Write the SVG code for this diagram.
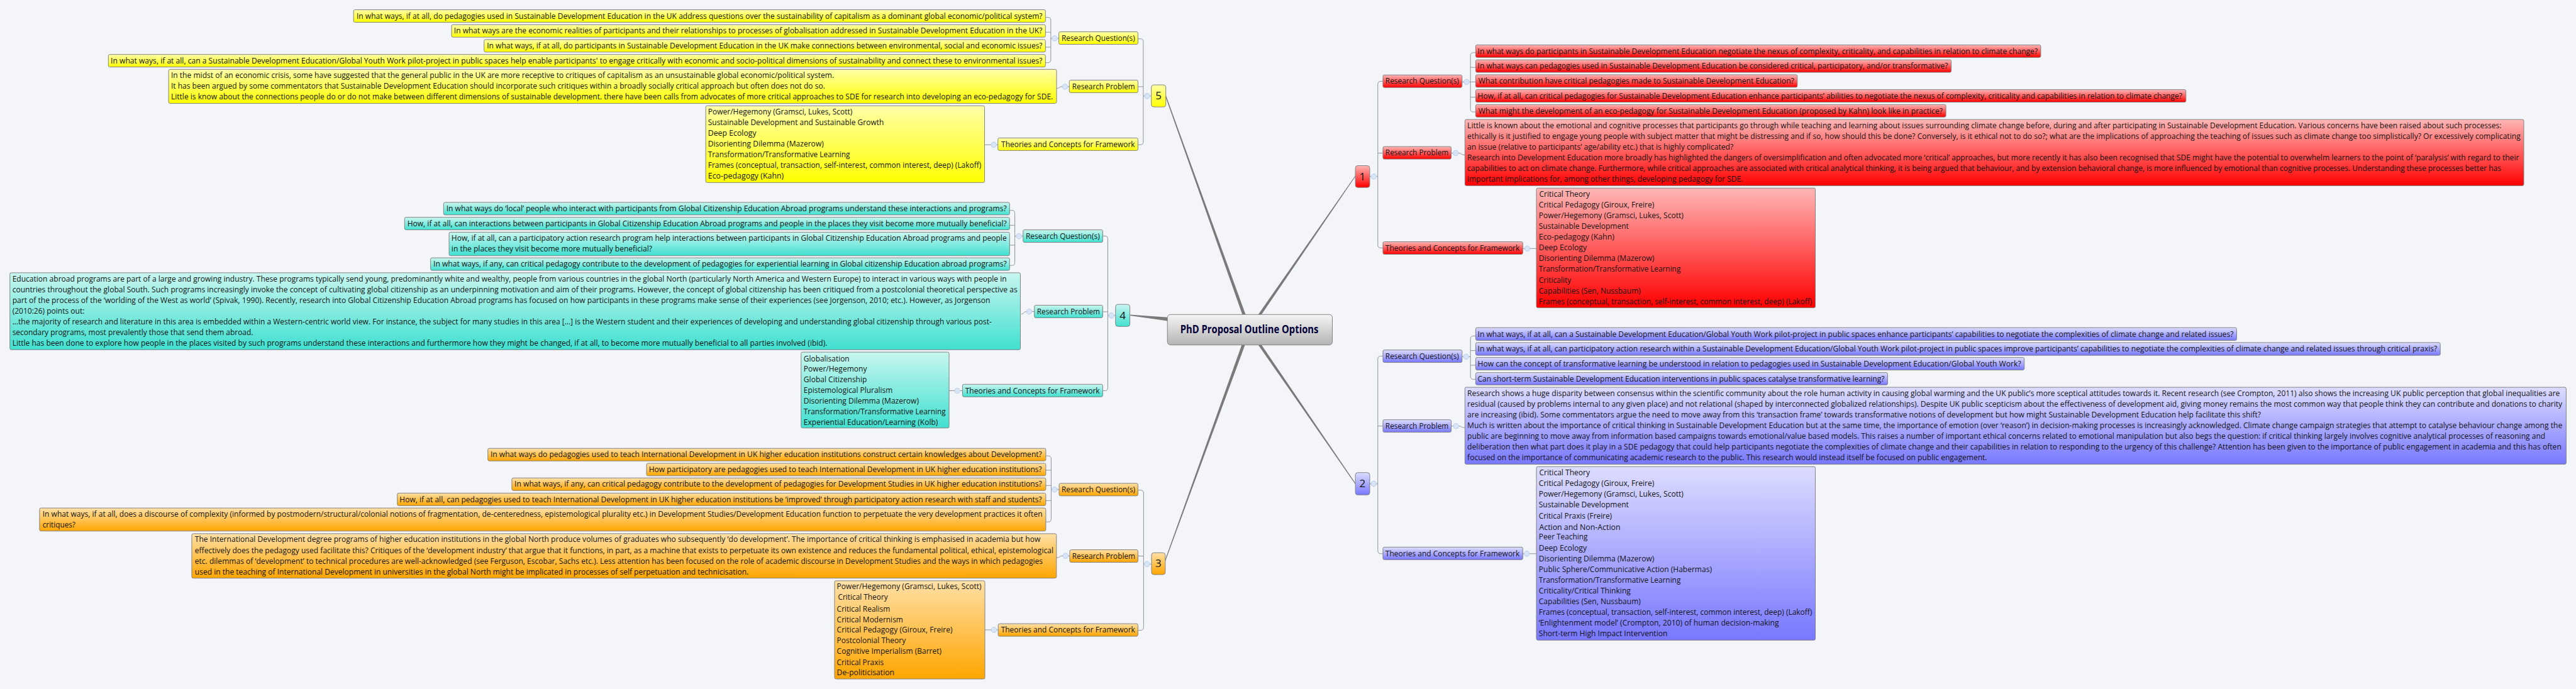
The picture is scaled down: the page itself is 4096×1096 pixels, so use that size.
<svg xmlns="http://www.w3.org/2000/svg" width="4096" height="1096" viewBox="0 0 4096 1096">
<style>
text{font-family:"Open Sans","Noto Sans","Liberation Sans",sans-serif;font-size:13px;fill:#141414}
.box{stroke:#7d7d7d;stroke-width:1}
.y{fill:url(#gy)}.t{fill:url(#gt)}.o{fill:url(#go)}.r{fill:url(#gr)}.b{fill:url(#gb)}.root{fill:url(#gg)}
.n{font-size:18px;text-anchor:middle}
.rt{font-size:19px;font-weight:700;fill:#000038}
.l{fill:none;stroke:#8a8f96;stroke-width:1}
.w{fill:#7a7a7a;stroke:none}
.c{fill:#d8e5f6;stroke:#b5cbe8;stroke-width:1}
</style>
<defs>
<linearGradient id="gy" x1="0" y1="0" x2="0" y2="1"><stop offset="0" stop-color="#ffffa8"/><stop offset="1" stop-color="#ffff00"/></linearGradient>
<linearGradient id="gt" x1="0" y1="0" x2="0" y2="1"><stop offset="0" stop-color="#c8f6ef"/><stop offset="1" stop-color="#40e0d0"/></linearGradient>
<linearGradient id="go" x1="0" y1="0" x2="0" y2="1"><stop offset="0" stop-color="#ffe0a6"/><stop offset="1" stop-color="#ffa500"/></linearGradient>
<linearGradient id="gr" x1="0" y1="0" x2="0" y2="1"><stop offset="0" stop-color="#ffb6b6"/><stop offset="1" stop-color="#ff0000"/></linearGradient>
<linearGradient id="gb" x1="0" y1="0" x2="0" y2="1"><stop offset="0" stop-color="#dcdcff"/><stop offset="1" stop-color="#7878ff"/></linearGradient>
<linearGradient id="gg" x1="0" y1="0" x2="0" y2="1"><stop offset="0" stop-color="#f5f5f5"/><stop offset="1" stop-color="#b4b4b4"/></linearGradient>
</defs>
<rect width="4096" height="1096" fill="#f3f5f9"/>
<g transform="scale(0.94881)">
<g id="connectors">
<polygon class="w" points="2082,527.5 2087.5,527.5 1954,160 1953.5,163"/>
<polygon class="w" points="2108.5,527.5 2114,527.5 2271.5,296 2271.5,294"/>
<polygon class="w" points="1956.4,532 1956.4,538 1893.5,529 1893.5,527.5"/>
<polygon class="w" points="2081,578 2086.5,578 1953,941 1952.7,938"/>
<polygon class="w" points="2108.5,578 2114,578 2271.5,810 2271,811.5"/>
<path class="l" d="M1907,65h4q5,0 5,5V237.7q0,5 -5,5h-4M1907,145.3H1916M1916,161H1929.5"/>
<path class="l" d="M1752,29h4q5,0 5,5V100q0,5 -5,5h-4M1752,54H1761M1752,79H1761M1761,64.5H1774.5"/>
<path class="l" d="M1792,145.3H1779q-3,0 -4,1.5t-4.4,1.2M1672.4,242.7H1650"/>
<path class="l" d="M1848,395.7h4q4.500,0 4.500,5V650q0,5 -4.500,5h-4M1848,522.7H1856.500M1856.500,529H1869.500"/>
<path class="l" d="M1692,352.700h4q4.700,0 4.700,5V440q0,5 -4.700,5h-4M1692,377.700H1700.700M1692,411H1700.700M1700.700,396H1714.500"/>
<path class="l" d="M1733.400,522.300H1720q-3,0 -4,2t-4.500,2.400M1613,655H1590.500"/>
<path class="l" d="M1907,821.700h4q5.500,0 5.500,5V1051.700q0,5 -5.500,5h-4M1907,932.300H1916.500M1916.500,945.700H1929.800"/>
<path class="l" d="M1752.600,764.300h4q5,0 5,5V870q0,5 -5,5h-4M1752.600,788.300H1761.500M1752.600,814H1761.500M1752.600,839.300H1761.500M1761.500,820.700H1774.900"/>
<path class="l" d="M1792.700,932H1780q-3,0 -4,1.500t-5.600,1.500M1672.800,1056H1650.500"/>
<path class="l" d="M2317.600,136.300h-3.600q-5,0 -5,5V410.700q0,5 5,5h3.600M2317.600,256.700H2309M2295.500,296H2309"/>
<path class="l" d="M2473,88.300h-3.700q-5,0 -5,5V182.700q0,5 5,5h3.700M2473,113H2464.300M2473,137.300H2450.200M2473,163H2464.300"/>
<path class="l" d="M2432,256.700H2445q3,0 4,1.500t6,1.800M2552,416.700H2574.800"/>
<path class="l" d="M2317.600,597h-3.600q-5,0 -5,5V923.300q0,5 5,5h3.600M2317.600,714.300H2309M2295.500,811H2309"/>
<path class="l" d="M2473,563.300h-3.700q-5,0 -5,5V631q0,5 5,5h3.700M2473,587.700H2464.300M2473,612.300H2464.300M2464.300,598H2450.200"/>
<path class="l" d="M2432,714.300H2445q3,0 4,1.300t6,1.400M2552,928.300H2574.800"/>
<ellipse class="c" cx="1922.400" cy="161" rx="4.500" ry="4.500"/><ellipse class="c" cx="1767.500" cy="64.300" rx="4.500" ry="4.500"/><ellipse class="c" cx="1784.700" cy="145.300" rx="4.500" ry="4.500"/><ellipse class="c" cx="1665.400" cy="242.700" rx="4.500" ry="4.500"/>
<ellipse class="c" cx="1862.600" cy="529" rx="4.500" ry="4.500"/><ellipse class="c" cx="1707.600" cy="396" rx="4.500" ry="4.500"/><ellipse class="c" cx="1724.800" cy="522.300" rx="4.500" ry="4.500"/><ellipse class="c" cx="1604.300" cy="655" rx="4.500" ry="4.500"/>
<ellipse class="c" cx="1922.200" cy="945.700" rx="4.500" ry="4.500"/><ellipse class="c" cx="1767.200" cy="820.700" rx="4.500" ry="4.500"/><ellipse class="c" cx="1785.700" cy="932" rx="4.500" ry="4.500"/><ellipse class="c" cx="1665.800" cy="1056" rx="4.500" ry="4.500"/>
<ellipse class="c" cx="2302.200" cy="296" rx="4.500" ry="4.500"/><ellipse class="c" cx="2457.600" cy="137.300" rx="4.500" ry="4.500"/><ellipse class="c" cx="2439.500" cy="256.700" rx="4.500" ry="4.500"/><ellipse class="c" cx="2559.400" cy="416.700" rx="4.500" ry="4.500"/>
<ellipse class="c" cx="2302.200" cy="811" rx="4.500" ry="4.500"/><ellipse class="c" cx="2457" cy="598" rx="4.500" ry="4.500"/><ellipse class="c" cx="2440" cy="714.300" rx="4.500" ry="4.500"/><ellipse class="c" cx="2558.700" cy="928.300" rx="4.500" ry="4.500"/>
</g>

<g id="root"><rect class="box root" x="1956.4" y="527.3" width="276.4" height="51" rx="5"/><text class="rt" x="1978" y="558.5" textLength="231.500" lengthAdjust="spacingAndGlyphs">PhD Proposal Outline Options</text></g>

<g id="n5"><rect class="box y" x="1929.5" y="142.300" width="24.200" height="37" rx="4"/><text class="n" x="1941.600" y="167">5</text></g>
<g id="n5-rq"><rect class="box y" x="1774.500" y="53.300" width="132.500" height="21" rx="2.500"/><text x="1779" y="68.300" textLength="123" lengthAdjust="spacingAndGlyphs">Research Question(s)</text></g>
<g id="n5-rp"><rect class="box y" x="1792" y="134.300" width="115" height="21" rx="2.500"/><text x="1796.800" y="149.300" textLength="105.200" lengthAdjust="spacingAndGlyphs">Research Problem</text></g>
<g id="n5-tc"><rect class="box y" x="1672.400" y="231.300" width="234.600" height="21" rx="2.500"/><text x="1678" y="246.300" textLength="224" lengthAdjust="spacingAndGlyphs">Theories and Concepts for Framework</text></g>
<g id="n5-q1"><rect class="box y" x="592.600" y="16.300" width="1159.400" height="21" rx="2.500"/><text x="597.500" y="31.300" textLength="1149.500" lengthAdjust="spacingAndGlyphs">In what ways, if at all, do pedagogies used in Sustainable Development Education in the UK address questions over the sustainability of capitalism as a dominant global economic/political system?</text></g>
<g id="n5-q2"><rect class="box y" x="756.800" y="41.300" width="995.200" height="21" rx="2.500"/><text x="760.800" y="56.300" textLength="986" lengthAdjust="spacingAndGlyphs">In what ways are the economic realities of participants and their relationships to processes of globalisation addressed in Sustainable Development Education in the UK?</text></g>
<g id="n5-q3"><rect class="box y" x="811.300" y="66.300" width="940.700" height="21" rx="2.500"/><text x="816" y="81.300" textLength="931" lengthAdjust="spacingAndGlyphs">In what ways, if at all, do participants in Sustainable Development Education in the UK make connections between environmental, social and economic issues?</text></g>
<g id="n5-q4"><rect class="box y" x="181.600" y="91.300" width="1570.400" height="21" rx="2.500"/><text x="185.600" y="106.300" textLength="1561.400" lengthAdjust="spacingAndGlyphs">In what ways, if at all, can a Sustainable Development Education/Global Youth Work pilot-project in public spaces help enable participants' to engage critically with economic and socio-political dimensions of sustainability and connect these to environmental issues?</text></g>
<g id="n5-problem"><rect class="box y" x="282.600" y="116.300" width="1488" height="57" rx="2.500"/>
<text x="286.600" y="130.800" textLength="1111" lengthAdjust="spacingAndGlyphs">In the midst of an economic crisis, some have suggested that the general public in the UK are more receptive to critiques of capitalism as an unsustainable global economic/political system.</text>
<text x="286.600" y="148.800" textLength="1096" lengthAdjust="spacingAndGlyphs">It has been argued by some commentators that Sustainable Development Education should incorporate such critiques within a broadly socially critical approach but often does not do so.</text>
<text x="286.600" y="166.800" textLength="1478" lengthAdjust="spacingAndGlyphs">Little is know about the connections people do or do not make between different dimensions of sustainable development. there have been calls from advocates of more critical approaches to SDE for research into developing an eco-pedagogy for SDE.</text></g>
<g id="n5-theories"><rect class="box y" x="1182.700" y="177.300" width="467.300" height="128.700" rx="2.500"/>
<text x="1186.500" y="191.800" textLength="242" lengthAdjust="spacingAndGlyphs">Power/Hegemony (Gramsci, Lukes, Scott)</text>
<text x="1186.500" y="209.800" textLength="294.600" lengthAdjust="spacingAndGlyphs">Sustainable Development and Sustainable Growth</text>
<text x="1186.500" y="227.800" textLength="81" lengthAdjust="spacingAndGlyphs">Deep Ecology</text>
<text x="1186.500" y="245.800" textLength="194" lengthAdjust="spacingAndGlyphs">Disorienting Dilemma (Mazerow)</text>
<text x="1186.500" y="263.800" textLength="238" lengthAdjust="spacingAndGlyphs">Transformation/Transformative Learning</text>
<text x="1186.500" y="281.800" textLength="458" lengthAdjust="spacingAndGlyphs">Frames (conceptual, transaction, self-interest, common interest, deep) (Lakoff)</text>
<text x="1186.500" y="299.800" textLength="127" lengthAdjust="spacingAndGlyphs">Eco-pedagogy (Kahn)</text></g>

<g id="n4"><rect class="box t" x="1869.500" y="510.300" width="24" height="37" rx="4"/><text class="n" x="1881.500" y="535">4</text></g>
<g id="n4-rq"><rect class="box t" x="1714.500" y="385.300" width="133.500" height="21" rx="2.500"/><text x="1719" y="400.300" textLength="124" lengthAdjust="spacingAndGlyphs">Research Question(s)</text></g>
<g id="n4-rp"><rect class="box t" x="1733.400" y="511.700" width="114.600" height="21" rx="2.500"/><text x="1737.800" y="526.700" textLength="105.500" lengthAdjust="spacingAndGlyphs">Research Problem</text></g>
<g id="n4-tc"><rect class="box t" x="1613" y="644.300" width="235" height="21" rx="2.500"/><text x="1617.500" y="659.300" textLength="225.500" lengthAdjust="spacingAndGlyphs">Theories and Concepts for Framework</text></g>
<g id="n4-q1"><rect class="box t" x="743.400" y="339.300" width="948.600" height="21" rx="2.500"/><text x="748" y="354.300" textLength="939" lengthAdjust="spacingAndGlyphs">In what ways do ‘local’ people who interact with participants from Global Citizenship Education Abroad programs understand these interactions and programs?</text></g>
<g id="n4-q2"><rect class="box t" x="678" y="364.300" width="1014" height="21" rx="2.500"/><text x="682.600" y="379.300" textLength="1004.400" lengthAdjust="spacingAndGlyphs">How, if at all, can interactions between participants in Global Citizenship Education Abroad programs and people in the places they visit become more mutually beneficial?</text></g>
<g id="n4-q3"><rect class="box t" x="752.600" y="389.300" width="939.400" height="39.400" rx="2.500"/>
<text x="756.600" y="403.800" textLength="930.400" lengthAdjust="spacingAndGlyphs">How, if at all, can a participatory action research program help interactions between participants in Global Citizenship Education Abroad programs and people</text>
<text x="756.600" y="421.800" textLength="336.300" lengthAdjust="spacingAndGlyphs">in the places they visit become more mutually beneficial?</text></g>
<g id="n4-q4"><rect class="box t" x="721.600" y="432.300" width="970.400" height="21" rx="2.500"/><text x="726.200" y="447.300" textLength="960.800" lengthAdjust="spacingAndGlyphs">In what ways, if any, can critical pedagogy contribute to the development of pedagogies for experiential learning in Global citizenship Education abroad programs?</text></g>
<g id="n4-problem"><rect class="box t" x="16.600" y="457.300" width="1693.400" height="129" rx="2.500"/>
<text x="20.700" y="471.800" textLength="1666.300" lengthAdjust="spacingAndGlyphs">Education abroad programs are part of a large and growing industry. These programs typically send young, predominantly white and wealthy, people from various countries in the global North (particularly North America and Western Europe) to interact in various ways with people in</text>
<text x="20.700" y="489.800" textLength="1684.300" lengthAdjust="spacingAndGlyphs">countries throughout the global South. Such programs increasingly invoke the concept of cultivating global citizenship as an underpinning motivation and aim of their programs. However, the concept of global citizenship has been critiqued from a postcolonial theoretical perspective as</text>
<text x="20.700" y="507.800" textLength="1638.700" lengthAdjust="spacingAndGlyphs">part of the process of the ‘worlding of the West as world’ (Spivak, 1990). Recently, research into Global Citizenship Education Abroad programs has focused on how participants in these programs make sense of their experiences (see Jorgenson, 2010; etc.). However, as Jorgenson</text>
<text x="20.700" y="525.800" textLength="121" lengthAdjust="spacingAndGlyphs">(2010:26) points out:</text>
<text x="20.700" y="543.800" textLength="1641.300" lengthAdjust="spacingAndGlyphs">...the majority of research and literature in this area is embedded within a Western-centric world view. For instance, the subject for many studies in this area […] is the Western student and their experiences of developing and understanding global citizenship through various post-</text>
<text x="20.700" y="561.800" textLength="403.500" lengthAdjust="spacingAndGlyphs">secondary programs, most prevalently those that send them abroad.</text>
<text x="20.700" y="579.800" textLength="1365.700" lengthAdjust="spacingAndGlyphs">Little has been done to explore how people in the places visited by such programs understand these interactions and furthermore how they might be changed, if at all, to become more mutually beneficial to all parties involved (ibid).</text></g>
<g id="n4-theories"><rect class="box t" x="1342.500" y="590.300" width="248" height="127.200" rx="2.500"/>
<text x="1346.800" y="606" textLength="76.700" lengthAdjust="spacingAndGlyphs">Globalisation</text>
<text x="1346.800" y="623" textLength="106" lengthAdjust="spacingAndGlyphs">Power/Hegemony</text>
<text x="1346.800" y="641" textLength="106" lengthAdjust="spacingAndGlyphs">Global Citizenship</text>
<text x="1346.800" y="659" textLength="149" lengthAdjust="spacingAndGlyphs">Epistemological Pluralism</text>
<text x="1346.800" y="677" textLength="193" lengthAdjust="spacingAndGlyphs">Disorienting Dilemma (Mazerow)</text>
<text x="1346.800" y="695" textLength="238" lengthAdjust="spacingAndGlyphs">Transformation/Transformative Learning</text>
<text x="1346.800" y="713" textLength="225" lengthAdjust="spacingAndGlyphs">Experiential Education/Learning (Kolb)</text></g>

<g id="n3"><rect class="box o" x="1929.800" y="926.700" width="23" height="36.600" rx="4"/><text class="n" x="1941.300" y="951">3</text></g>
<g id="n3-rq"><rect class="box o" x="1774.900" y="810.300" width="132.100" height="21" rx="2.500"/><text x="1779" y="825.300" textLength="123.500" lengthAdjust="spacingAndGlyphs">Research Question(s)</text></g>
<g id="n3-rp"><rect class="box o" x="1792.700" y="921.700" width="114.300" height="21" rx="2.500"/><text x="1796.800" y="936.700" textLength="105.500" lengthAdjust="spacingAndGlyphs">Research Problem</text></g>
<g id="n3-tc"><rect class="box o" x="1672.800" y="1045.700" width="234.200" height="21" rx="2.500"/><text x="1677.500" y="1060.700" textLength="224.800" lengthAdjust="spacingAndGlyphs">Theories and Concepts for Framework</text></g>
<g id="n3-q1"><rect class="box o" x="817.600" y="751.700" width="935" height="21" rx="2.500"/><text x="822" y="766.700" textLength="924.200" lengthAdjust="spacingAndGlyphs">In what ways do pedagogies used to teach International Development in UK higher education institutions construct certain knowledges about Development?</text></g>
<g id="n3-q2"><rect class="box o" x="1083.500" y="776.700" width="669.100" height="21" rx="2.500"/><text x="1087.400" y="791.700" textLength="658.800" lengthAdjust="spacingAndGlyphs">How participatory are pedagogies used to teach International Development in UK higher education institutions?</text></g>
<g id="n3-q3"><rect class="box o" x="857.800" y="801.300" width="894.800" height="21" rx="2.500"/><text x="862.200" y="816.300" textLength="884" lengthAdjust="spacingAndGlyphs">In what ways, if any, can critical pedagogy contribute to the development of pedagogies for Development Studies in UK higher education institutions?</text></g>
<g id="n3-q4"><rect class="box o" x="665.800" y="826.700" width="1086.800" height="21" rx="2.500"/><text x="669.600" y="841.700" textLength="1076.600" lengthAdjust="spacingAndGlyphs">How, if at all, can pedagogies used to teach International Development in UK higher education institutions be ‘improved’ through participatory action research with staff and students?</text></g>
<g id="n3-q5"><rect class="box o" x="66.300" y="851.700" width="1686.300" height="38.600" rx="2.500"/>
<text x="71.400" y="866.200" textLength="1675.600" lengthAdjust="spacingAndGlyphs">In what ways, if at all, does a discourse of complexity (informed by postmodern/structural/colonial notions of fragmentation, de-centeredness, epistemological plurality etc.) in Development Studies/Development Education function to perpetuate the very development practices it often</text>
<text x="71.400" y="884.200" textLength="55" lengthAdjust="spacingAndGlyphs">critiques?</text></g>
<g id="n3-problem"><rect class="box o" x="321.400" y="894.700" width="1449" height="74.600" rx="2.500"/>
<text x="326.500" y="909" textLength="1417" lengthAdjust="spacingAndGlyphs">The International Development degree programs of higher education institutions in the global North produce volumes of graduates who subsequently ‘do development’. The importance of critical thinking is emphasised in academia but how</text>
<text x="326.500" y="927" textLength="1438.800" lengthAdjust="spacingAndGlyphs">effectively does the pedagogy used facilitate this? Critiques of the ‘development industry’ that argue that it functions, in part, as a machine that exists to perpetuate its own existence and reduces the fundamental political, ethical, epistemological</text>
<text x="326.500" y="945" textLength="1421" lengthAdjust="spacingAndGlyphs">etc. dilemmas of ‘development’ to technical procedures are well-acknowledged (see Ferguson, Escobar, Sachs etc.). Less attention has been focused on the role of academic discourse in Development Studies and the ways in which pedagogies</text>
<text x="326.500" y="963" textLength="928" lengthAdjust="spacingAndGlyphs">used in the teaching of International Development in universities in the global North might be implicated in processes of self perpetuation and technicisation.</text></g>
<g id="n3-theories"><rect class="box o" x="1398.600" y="973.700" width="251.900" height="164.600" rx="2.500"/>
<text x="1402.400" y="987.800" textLength="242.400" lengthAdjust="spacingAndGlyphs">Power/Hegemony (Gramsci, Lukes, Scott)</text>
<text x="1404.300" y="1005.800" textLength="83.600" lengthAdjust="spacingAndGlyphs">Critical Theory</text>
<text x="1402.400" y="1025.200" textLength="89.300" lengthAdjust="spacingAndGlyphs">Critical Realism</text>
<text x="1402.400" y="1043.200" textLength="111" lengthAdjust="spacingAndGlyphs">Critical Modernism</text>
<text x="1402.400" y="1059.800" textLength="194" lengthAdjust="spacingAndGlyphs">Critical Pedagogy (Giroux, Freire)</text>
<text x="1402.400" y="1077.800" textLength="115.500" lengthAdjust="spacingAndGlyphs">Postcolonial Theory</text>
<text x="1402.400" y="1095.800" textLength="175.400" lengthAdjust="spacingAndGlyphs">Cognitive Imperialism (Barret)</text>
<text x="1402.400" y="1115.200" textLength="78.500" lengthAdjust="spacingAndGlyphs">Critical Praxis</text>
<text x="1402.400" y="1131.800" textLength="96.300" lengthAdjust="spacingAndGlyphs">De-politicisation</text></g>

<g id="n1"><rect class="box r" x="2271.400" y="277.700" width="24.100" height="36.600" rx="4"/><text class="n" x="2283.400" y="302">1</text></g>
<g id="n1-rq"><rect class="box r" x="2317.600" y="125.700" width="132.600" height="21" rx="2.500"/><text x="2321.700" y="140.700" textLength="123.300" lengthAdjust="spacingAndGlyphs">Research Question(s)</text></g>
<g id="n1-rp"><rect class="box r" x="2317.600" y="245.700" width="114.400" height="21" rx="2.500"/><text x="2321.700" y="260.700" textLength="105.800" lengthAdjust="spacingAndGlyphs">Research Problem</text></g>
<g id="n1-tc"><rect class="box r" x="2317.600" y="405.300" width="234.400" height="21" rx="2.500"/><text x="2321.700" y="420.300" textLength="225" lengthAdjust="spacingAndGlyphs">Theories and Concepts for Framework</text></g>
<g id="n1-q1"><rect class="box r" x="2473" y="75.300" width="947" height="21" rx="2.500"/><text x="2476.300" y="90.300" textLength="938.600" lengthAdjust="spacingAndGlyphs">In what ways do participants in Sustainable Development Education negotiate the nexus of complexity, criticality, and capabilities in relation to climate change?</text></g>
<g id="n1-q2"><rect class="box r" x="2473" y="100.300" width="797" height="21" rx="2.500"/><text x="2476.300" y="115.300" textLength="788.200" lengthAdjust="spacingAndGlyphs">In what ways can pedagogies used in Sustainable Development Education be considered critical, participatory, and/or transformative?</text></g>
<g id="n1-q3"><rect class="box r" x="2473" y="125.300" width="539" height="21" rx="2.500"/><text x="2477.700" y="140.300" textLength="529" lengthAdjust="spacingAndGlyphs">What contribution have critical pedagogies made to Sustainable Development Education?</text></g>
<g id="n1-q4"><rect class="box r" x="2473" y="150.300" width="1190.300" height="21" rx="2.500"/><text x="2476.300" y="165.300" textLength="1181" lengthAdjust="spacingAndGlyphs">How, if at all, can critical pedagogies for Sustainable Development Education enhance participants’ abilities to negotiate the nexus of complexity, criticality and capabilities in relation to climate change?</text></g>
<g id="n1-q5"><rect class="box r" x="2473" y="175.300" width="788" height="21" rx="2.500"/><text x="2477.700" y="190.300" textLength="778" lengthAdjust="spacingAndGlyphs">What might the development of an eco-pedagogy for Sustainable Development Education (proposed by Kahn) look like in practice?</text></g>
<g id="n1-problem"><rect class="box r" x="2455" y="200.300" width="1774.500" height="111" rx="2.500"/>
<text x="2459" y="215" textLength="1733" lengthAdjust="spacingAndGlyphs">Little is known about the emotional and cognitive processes that participants go through while teaching and learning about issues surrounding climate change before, during and after participating in Sustainable Development Education. Various concerns have been raised about such processes:</text>
<text x="2459" y="233" textLength="1765" lengthAdjust="spacingAndGlyphs">ethically is it justified to engage young people with subject matter that might be distressing and if so, how should this be done? Conversely, is it ethical not to do so?; what are the implications of approaching the teaching of issues such as climate change too simplistically? Or excessively complicating</text>
<text x="2459" y="251" textLength="446" lengthAdjust="spacingAndGlyphs">an issue (relative to participants’ age/ability etc.) that is highly complicated?</text>
<text x="2459" y="269" textLength="1762.500" lengthAdjust="spacingAndGlyphs">Research into Development Education more broadly has highlighted the dangers of oversimplification and often advocated more ‘critical’ approaches, but more recently it has also been recognised that SDE might have the potential to overwhelm learners to the point of ‘paralysis’ with regard to their</text>
<text x="2459" y="287" textLength="1732.500" lengthAdjust="spacingAndGlyphs">capabilities to act on climate change. Furthermore, while critical approaches are associated with critical analytical thinking, it is being argued that behaviour, and by extension behavioral change, is more influenced by emotional than cognitive processes. Understanding these processes better has</text>
<text x="2459" y="305" textLength="462" lengthAdjust="spacingAndGlyphs">important implications for, among other things, developing pedagogy for SDE.</text></g>
<g id="n1-theories"><rect class="box r" x="2574.800" y="315.300" width="467.400" height="200.700" rx="2.500"/>
<text x="2579.500" y="329.800" textLength="85" lengthAdjust="spacingAndGlyphs">Critical Theory</text>
<text x="2578.800" y="347.800" textLength="193.500" lengthAdjust="spacingAndGlyphs">Critical Pedagogy (Giroux, Freire)</text>
<text x="2578.800" y="365.800" textLength="242.400" lengthAdjust="spacingAndGlyphs">Power/Hegemony (Gramsci, Lukes, Scott)</text>
<text x="2578.800" y="383.800" textLength="150.700" lengthAdjust="spacingAndGlyphs">Sustainable Development</text>
<text x="2578.800" y="401.800" textLength="126.600" lengthAdjust="spacingAndGlyphs">Eco-pedagogy (Kahn)</text>
<text x="2578.800" y="419.800" textLength="80.400" lengthAdjust="spacingAndGlyphs">Deep Ecology</text>
<text x="2578.800" y="437.800" textLength="193.500" lengthAdjust="spacingAndGlyphs">Disorienting Dilemma (Mazerow)</text>
<text x="2578.800" y="455.800" textLength="237.700" lengthAdjust="spacingAndGlyphs">Transformation/Transformative Learning</text>
<text x="2578.800" y="473.800" textLength="54.200" lengthAdjust="spacingAndGlyphs">Criticality</text>
<text x="2578.800" y="491.800" textLength="170.800" lengthAdjust="spacingAndGlyphs">Capabilities (Sen, Nussbaum)</text>
<text x="2578.800" y="509.800" textLength="458" lengthAdjust="spacingAndGlyphs">Frames (conceptual, transaction, self-interest, common interest, deep) (Lakoff)</text></g>

<g id="n2"><rect class="box b" x="2271.400" y="792.300" width="24.100" height="37.400" rx="4"/><text class="n" x="2283.400" y="817">2</text></g>
<g id="n2-rq"><rect class="box b" x="2317.600" y="586.700" width="132.600" height="21" rx="2.500"/><text x="2321.700" y="601.700" textLength="123.300" lengthAdjust="spacingAndGlyphs">Research Question(s)</text></g>
<g id="n2-rp"><rect class="box b" x="2317.600" y="703.700" width="114.400" height="21" rx="2.500"/><text x="2321.700" y="718.700" textLength="105.800" lengthAdjust="spacingAndGlyphs">Research Problem</text></g>
<g id="n2-tc"><rect class="box b" x="2317.600" y="917.300" width="234.400" height="21" rx="2.500"/><text x="2321.700" y="932.300" textLength="225" lengthAdjust="spacingAndGlyphs">Theories and Concepts for Framework</text></g>
<g id="n2-q1"><rect class="box b" x="2473" y="549.300" width="1275.300" height="21.400" rx="2.500"/><text x="2476.300" y="564.500" textLength="1266.700" lengthAdjust="spacingAndGlyphs">In what ways, if at all, can a Sustainable Development Education/Global Youth Work pilot-project in public spaces enhance participants’ capabilities to negotiate the complexities of climate change and related issues?</text></g>
<g id="n2-q2"><rect class="box b" x="2473" y="574.300" width="1616.500" height="21.400" rx="2.500"/><text x="2476.300" y="589.500" textLength="1608" lengthAdjust="spacingAndGlyphs">In what ways, if at all, can participatory action research within a Sustainable Development Education/Global Youth Work pilot-project in public spaces improve participants’ capabilities to negotiate the complexities of climate change and related issues through critical praxis?</text></g>
<g id="n2-q3"><rect class="box b" x="2473" y="599.300" width="919.400" height="21" rx="2.500"/><text x="2476.300" y="614.300" textLength="910.700" lengthAdjust="spacingAndGlyphs">How can the concept of transformative learning be understood in relation to pedagogies used in Sustainable Development Education/Global Youth Work?</text></g>
<g id="n2-q4"><rect class="box b" x="2473" y="624.700" width="690.400" height="20.600" rx="2.500"/><text x="2476.300" y="639.500" textLength="681.700" lengthAdjust="spacingAndGlyphs">Can short-term Sustainable Development Education interventions in public spaces catalyse transformative learning?</text></g>
<g id="n2-problem"><rect class="box b" x="2455" y="649.300" width="1845.500" height="129" rx="2.500"/>
<text x="2459" y="664" textLength="1831" lengthAdjust="spacingAndGlyphs">Research shows a huge disparity between consensus within the scientific community about the role human activity in causing global warming and the UK public’s more sceptical attitudes towards it. Recent research (see Crompton, 2011) also shows the increasing UK public perception that global inequalities are</text>
<text x="2459" y="682" textLength="1835" lengthAdjust="spacingAndGlyphs">residual (caused by problems internal to any given place) and not relational (shaped by interconnected globalized relationships). Despite UK public scepticism about the effectiveness of development aid, giving money remains the most common way that people think they can contribute and donations to charity</text>
<text x="2459" y="700" textLength="1330" lengthAdjust="spacingAndGlyphs">are increasing (ibid). Some commentators argue the need to move away from this ‘transaction frame’ towards transformative notions of development but how might Sustainable Development Education help facilitate this shift?</text>
<text x="2459" y="718" textLength="1835" lengthAdjust="spacingAndGlyphs">Much is written about the importance of critical thinking in Sustainable Development Education but at the same time, the importance of emotion (over ‘reason’) in decision-making processes is increasingly acknowledged. Climate change campaign strategies that attempt to catalyse behaviour change among the</text>
<text x="2459" y="736" textLength="1806.500" lengthAdjust="spacingAndGlyphs">public are beginning to move away from information based campaigns towards emotional/value based models. This raises a number of important ethical concerns related to emotional manipulation but also begs the question: if critical thinking largely involves cognitive analytical processes of reasoning and</text>
<text x="2459" y="754" textLength="1833.600" lengthAdjust="spacingAndGlyphs">deliberation then what part does it play in a SDE pedagogy that could help participants negotiate the complexities of climate change and their capabilities in relation to responding to the urgency of this challenge? Attention has been given to the importance of public engagement in academia and this has often</text>
<text x="2459" y="772" textLength="871" lengthAdjust="spacingAndGlyphs">focused on the importance of communicating academic research to the public. This research would instead itself be focused on public engagement.</text></g>
<g id="n2-theories"><rect class="box b" x="2574.800" y="782.300" width="467.400" height="291" rx="2.500"/>
<text x="2579.500" y="796.800" textLength="85" lengthAdjust="spacingAndGlyphs">Critical Theory</text>
<text x="2578.800" y="814.800" textLength="193.500" lengthAdjust="spacingAndGlyphs">Critical Pedagogy (Giroux, Freire)</text>
<text x="2578.800" y="832.800" textLength="242.400" lengthAdjust="spacingAndGlyphs">Power/Hegemony (Gramsci, Lukes, Scott)</text>
<text x="2578.800" y="850.800" textLength="150.700" lengthAdjust="spacingAndGlyphs">Sustainable Development</text>
<text x="2578.800" y="869.200" textLength="122.600" lengthAdjust="spacingAndGlyphs">Critical Praxis (Freire)</text>
<text x="2579.500" y="888.200" textLength="136" lengthAdjust="spacingAndGlyphs">Action and Non-Action</text>
<text x="2578.800" y="904.800" textLength="81.700" lengthAdjust="spacingAndGlyphs">Peer Teaching</text>
<text x="2578.800" y="922.800" textLength="80.400" lengthAdjust="spacingAndGlyphs">Deep Ecology</text>
<text x="2578.800" y="940.800" textLength="193.500" lengthAdjust="spacingAndGlyphs">Disorienting Dilemma (Mazerow)</text>
<text x="2578.800" y="958.800" textLength="290" lengthAdjust="spacingAndGlyphs">Public Sphere/Communicative Action (Habermas)</text>
<text x="2578.800" y="976.800" textLength="237.700" lengthAdjust="spacingAndGlyphs">Transformation/Transformative Learning</text>
<text x="2578.800" y="994.800" textLength="154" lengthAdjust="spacingAndGlyphs">Criticality/Critical Thinking</text>
<text x="2578.800" y="1012.800" textLength="170.800" lengthAdjust="spacingAndGlyphs">Capabilities (Sen, Nussbaum)</text>
<text x="2578.800" y="1030.800" textLength="458" lengthAdjust="spacingAndGlyphs">Frames (conceptual, transaction, self-interest, common interest, deep) (Lakoff)</text>
<text x="2578.800" y="1048.800" textLength="402.500" lengthAdjust="spacingAndGlyphs">‘Enlightenment model’ (Crompton, 2010) of human decision-making</text>
<text x="2578.800" y="1066.800" textLength="215.600" lengthAdjust="spacingAndGlyphs">Short-term High Impact Intervention</text></g>
</g>
</svg>
